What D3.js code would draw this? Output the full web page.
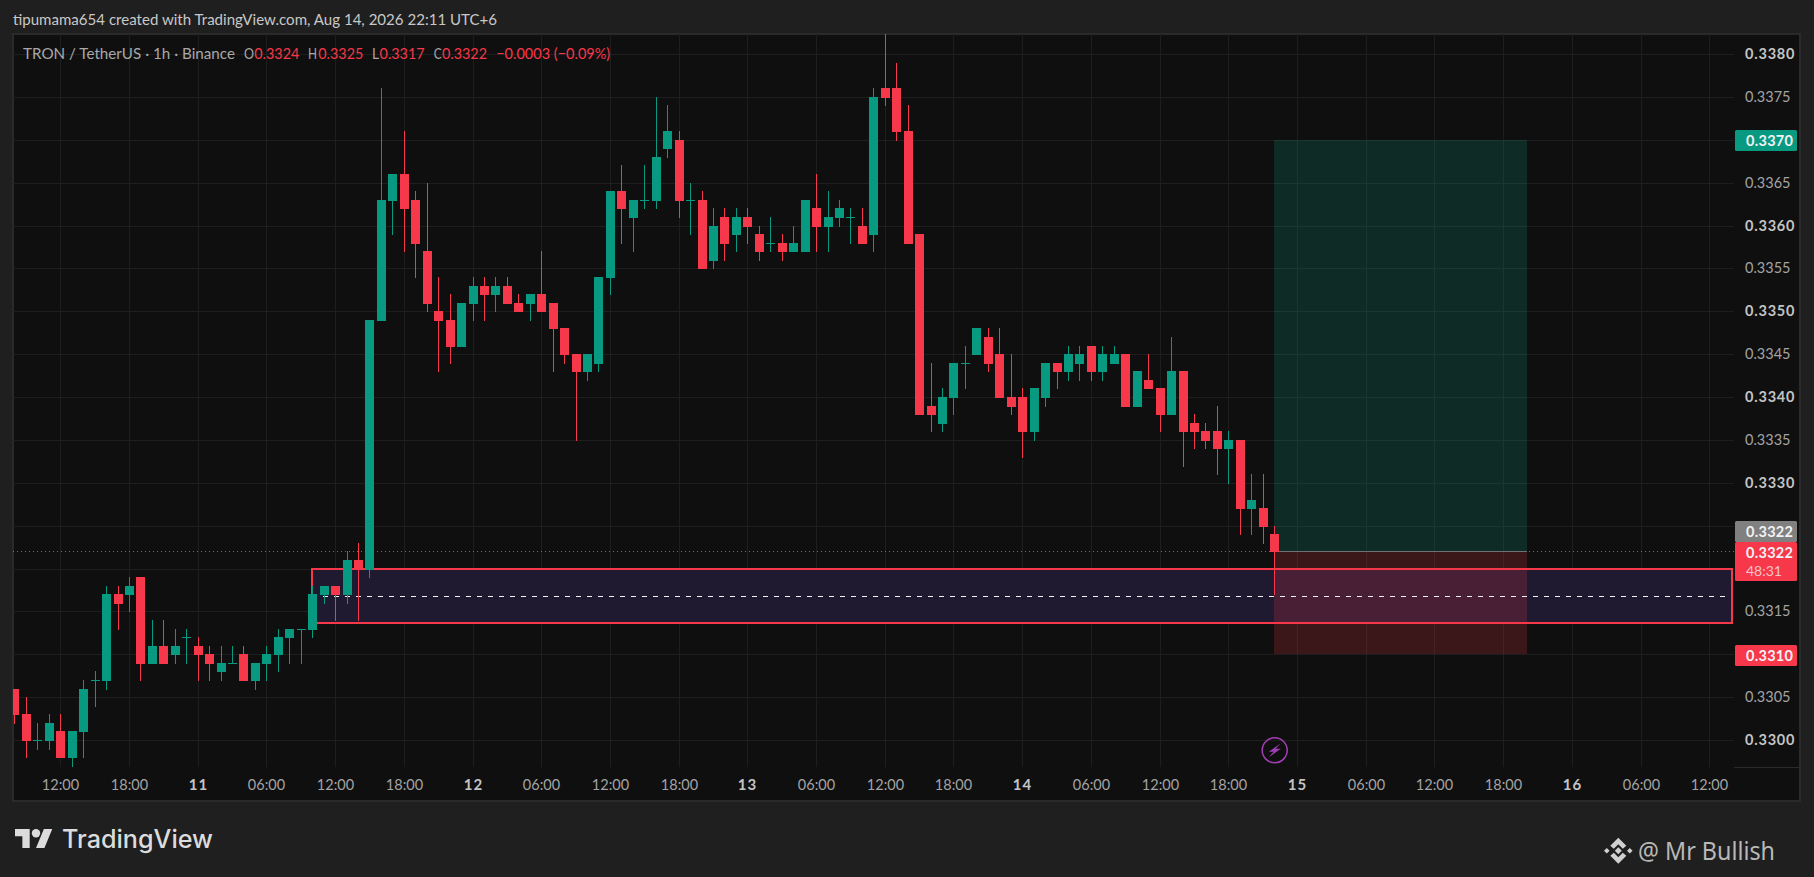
<!DOCTYPE html>
<html>
<head>
<meta charset="utf-8">
<script src="https://cdn.jsdelivr.net/npm/d3@7"></script>
<style>
  html, body { margin: 0; padding: 0; background: #1f1f1f; overflow: hidden; }
  svg { display: block; }
  text { font-family: Lato, "Liberation Sans", sans-serif; }
</style>
</head>
<body>
<div id="chart"></div>
<script>
// hourly candles, index 0 = Aug 10 12:00, prices
var hours = d3.range(-4, 107);
var opens = [
  .3306,.3303,.3300,.3300,.3301,.3298,.3301,.3307,.3307,.3317,.3317,.3319,.3309,.3311,.3310,.3312,
  .3311,.3310,.3308,.3309,.3310,.3307,.3309,.3310,.3312,.3313,.3313,.3317,.3318,.3317,.3321,.3320,
  .3349,.3363,.3366,.3363,.3357,.3350,.3349,.3346,.3351,.3353,.3352,.3353,.3351,.3351,.3352,.3351,
  .3348,.3345,.3343,.3344,.3354,.3364,.3361,.3363,.3363,.3369,.3370,.3363,.3363,.3356,.3361,.3359,
  .3361,.3359,.3358,.3358,.3357,.3357,.3362,.3360,.3361,.3361,.3360,.3359,.3376,.3376,.3371,.3359,
  .3339,.3337,.3340,.3344,.3345,.3347,.3345,.3340,.3340,.3336,.3340,.3344,.3343,.3344,.3346,.3343,
  .3344,.3345,.3339,.3342,.3341,.3338,.3343,.3337,.3336,.3336,.3334,.3335,.3327,.3327,.3324
];
var closes = [
  .3303,.3300,.3300,.3302,.3298,.3301,.3306,.3307,.3317,.3316,.3318,.3309,.3311,.3309,.3311,.3312,
  .3310,.3309,.3309,.3309,.3307,.3309,.3310,.3312,.3313,.3313,.3317,.3318,.3317,.3321,.3320,.3349,
  .3363,.3366,.3362,.3358,.3351,.3349,.3346,.3351,.3353,.3352,.3353,.3351,.3350,.3352,.3350,.3348,
  .3345,.3343,.3345,.3354,.3364,.3362,.3363,.3363,.3368,.3371,.3363,.3363,.3355,.3360,.3358,.3361,
  .3360,.3357,.3358,.3357,.3358,.3363,.3360,.3361,.3362,.3361,.3358,.3375,.3375,.3371,.3358,.3338,
  .3338,.3340,.3344,.3344,.3348,.3344,.3340,.3339,.3336,.3341,.3344,.3343,.3345,.3345,.3343,.3345,
  .3345,.3339,.3343,.3341,.3338,.3343,.3336,.3336,.3335,.3334,.3335,.3327,.3328,.3325,.3322
];
var highs = [
  .3306,.3305,.3302,.3303,.3303,.3301,.3307,.3308,.3318,.3318,.3319,.3319,.3314,.3314,.3313,.3313,
  .3312,.3311,.3311,.3311,.3311,.3309,.3311,.3313,.3313,.3313,.3318,.3318,.3318,.3322,.3323,.3349,
  .3376,.3366,.3371,.3364,.3365,.3354,.3352,.3351,.3354,.3354,.3354,.3354,.3352,.3352,.3357,.3351,
  .3348,.3345,.3345,.3354,.3364,.3367,.3363,.3367,.3375,.3374,.3371,.3365,.3364,.3362,.3362,.3362,
  .3362,.3360,.3361,.3359,.3360,.3363,.3366,.3364,.3363,.3362,.3362,.3376,.3383,.3379,.3374,.3359,
  .3344,.3341,.3344,.3346,.3348,.3348,.3348,.3345,.3341,.3341,.3344,.3344,.3346,.3346,.3346,.3346,
  .3346,.3345,.3343,.3345,.3341,.3347,.3343,.3338,.3337,.3339,.3336,.3335,.3331,.3331,.3325
];
var lows = [
  .3302,.3298,.3299,.3299,.3298,.3297,.3298,.3304,.3306,.3313,.3315,.3307,.3309,.3309,.3309,.3309,
  .3307,.3307,.3307,.3309,.3307,.3306,.3307,.3308,.3309,.3309,.3312,.3316,.3314,.3316,.3314,.3319,
  .3349,.3359,.3357,.3354,.3350,.3343,.3344,.3346,.3349,.3349,.3350,.3351,.3350,.3349,.3350,.3343,
  .3344,.3335,.3342,.3343,.3352,.3358,.3357,.3362,.3362,.3368,.3361,.3359,.3355,.3355,.3356,.3357,
  .3358,.3356,.3357,.3356,.3357,.3357,.3357,.3357,.3360,.3358,.3358,.3357,.3374,.3370,.3358,.3338,
  .3336,.3336,.3338,.3341,.3345,.3343,.3340,.3338,.3333,.3335,.3339,.3341,.3342,.3342,.3342,.3342,
  .3344,.3339,.3339,.3341,.3336,.3338,.3332,.3334,.3334,.3331,.3330,.3324,.3324,.3323,.3317
];

var priceTicks = d3.range(3380, 3299, -5).map(function (d) { return d / 10000; });
var boldPrices = [.3380, .3360, .3350, .3340, .3330, .3300];
var hiddenPrices = [.3370, .3325, .3320, .3310];
var timeTicks = d3.range(0, 145, 6);
var timeLabels = ["12:00","18:00","11","06:00","12:00","18:00","12","06:00","12:00","18:00","13","06:00",
  "12:00","18:00","14","06:00","12:00","18:00","15","06:00","12:00","18:00","16","06:00","12:00"];

var takeProfit = .3370, entry = .3322, stopLoss = .3310;
var zoneTop = .3320, zoneBottom = .33137, zoneMid = .33168;

var RED = "#f7374a", GREEN = "#089981";

var svg = d3.select("#chart").append("svg").attr("width", 1814).attr("height", 877);

var x = d3.scaleLinear().domain([0, 144]).range([60.77, 1709.77]);
var y = d3.scaleLinear().domain([.3380, .3300]).range([54, 740]);
var px = function (h) { return Math.floor(x(h)); };
var py = function (p) { return Math.round(y(p)); };

// page + pane
svg.append("rect").attr("width", 1814).attr("height", 877).attr("fill", "#1f1f1f");
svg.append("rect").attr("x", 13).attr("y", 34).attr("width", 1787).attr("height", 767)
  .attr("fill", "#0f0f0f").attr("stroke", "#2a2a2d").attr("stroke-width", 2);

var clip = svg.append("clipPath").attr("id", "pane").append("rect")
  .attr("x", 13).attr("y", 34).attr("width", 1721).attr("height", 733);

// grid
var grid = svg.append("g").attr("shape-rendering", "crispEdges").attr("stroke", "#1e1e1e");
grid.selectAll(".h").data(priceTicks).join("line").attr("class", "h")
  .attr("x1", 13).attr("x2", 1734).attr("y1", function (d) { return py(d) + .5; }).attr("y2", function (d) { return py(d) + .5; });
grid.selectAll(".v").data(timeTicks).join("line").attr("class", "v")
  .attr("y1", 34).attr("y2", 767).attr("x1", function (d) { return px(d) + .5; }).attr("x2", function (d) { return px(d) + .5; });
svg.append("line").attr("x1", 1734).attr("x2", 1800).attr("y1", 767.5).attr("y2", 767.5).attr("stroke", "#2a2a2d");

// demand zone, goes under the candles
svg.append("rect").attr("x", 312).attr("y", py(zoneTop)).attr("width", 1420).attr("height", py(zoneBottom) - py(zoneTop))
  .attr("fill", "#1f1a30").attr("stroke", RED).attr("stroke-width", 2);

// long position tool
var posLeft = px(106), posRight = 1527;
svg.append("rect").attr("x", posLeft).attr("width", posRight - posLeft)
  .attr("y", py(takeProfit)).attr("height", py(entry) - py(takeProfit))
  .attr("fill", GREEN).attr("fill-opacity", .2);
svg.append("rect").attr("x", posLeft).attr("width", posRight - posLeft)
  .attr("y", py(entry)).attr("height", py(stopLoss) - py(entry))
  .attr("fill", "#f23645").attr("fill-opacity", .2);
svg.append("line").attr("x1", posLeft).attr("x2", posRight).attr("y1", py(entry) + .5).attr("y2", py(entry) + .5)
  .attr("stroke", "#6f6f6f").attr("stroke-width", 1);

// dashed midline of the zone
svg.append("line").attr("x1", 323).attr("x2", 1727).attr("y1", py(zoneMid) + .5).attr("y2", py(zoneMid) + .5)
  .attr("stroke", "#f2f2f2").attr("stroke-width", 1).attr("stroke-dasharray", "5 6").attr("shape-rendering", "crispEdges");

// candles
var candles = svg.append("g").attr("clip-path", "url(#pane)").attr("shape-rendering", "crispEdges");
var idx = d3.range(hours.length);
var color = function (i) { return closes[i] >= opens[i] ? GREEN : RED; };
candles.selectAll(".wick").data(idx).join("rect").attr("class", "wick")
  .attr("x", function (i) { return px(hours[i]); })
  .attr("width", 1)
  .attr("y", function (i) { return py(highs[i]); })
  .attr("height", function (i) { return py(lows[i]) - py(highs[i]) + 1; })
  .attr("fill", color);
candles.selectAll(".body").data(idx).join("rect").attr("class", "body")
  .attr("x", function (i) { return px(hours[i]) - 4; })
  .attr("width", 9)
  .attr("y", function (i) { return py(Math.max(opens[i], closes[i])); })
  .attr("height", function (i) { return Math.abs(py(opens[i]) - py(closes[i])) + 1; })
  .attr("fill", color);

// last price line
svg.append("line").attr("x1", 13).attr("x2", 1735).attr("y1", py(entry) + .5).attr("y2", py(entry) + .5)
  .attr("stroke", RED).attr("stroke-width", 1).attr("stroke-dasharray", "1 3").attr("shape-rendering", "crispEdges");

// price axis
svg.append("g").selectAll("text").data(priceTicks.filter(function (d) { return hiddenPrices.indexOf(d) < 0; })).join("text")
  .attr("x", 1745).attr("y", function (d) { return py(d) + 5; })
  .attr("font-size", 14.5)
  .attr("font-weight", function (d) { return boldPrices.indexOf(d) >= 0 ? 700 : 400; })
  .attr("letter-spacing", function (d) { return boldPrices.indexOf(d) >= 0 ? .8 : 0; })
  .attr("fill", function (d) { return boldPrices.indexOf(d) >= 0 ? "#c4c4c4" : "#a3a3a3"; })
  .text(function (d) { return d.toFixed(4); });

function priceTag(top, h, fill, label) {
  svg.append("rect").attr("x", 1735).attr("y", top).attr("width", 62).attr("height", h).attr("rx", 1.5).attr("fill", fill);
  svg.append("text").attr("x", 1746).attr("y", top + 15.5).attr("font-size", 14.5).attr("font-weight", 700)
    .attr("letter-spacing", .3).attr("fill", "#f2f2f2").text(label);
}
priceTag(130, 21, GREEN, takeProfit.toFixed(4));
priceTag(521, 21, "#808080", entry.toFixed(4));
priceTag(542, 39, RED, entry.toFixed(4));
svg.append("text").attr("x", 1746).attr("y", 575.5).attr("font-size", 14).attr("fill", "#f5c4c9").text("48:31");
priceTag(645, 21, RED, stopLoss.toFixed(4));

// time axis
svg.append("g").selectAll("text").data(timeTicks).join("text")
  .attr("x", function (d) { return px(d) + .5; }).attr("y", 790)
  .attr("text-anchor", "middle")
  .attr("font-size", function (d, i) { return timeLabels[i].length < 3 ? 15 : 14.5; })
  .attr("font-weight", function (d, i) { return timeLabels[i].length < 3 ? 700 : 400; })
  .attr("letter-spacing", function (d, i) { return timeLabels[i].length < 3 ? 1 : 0; })
  .attr("fill", function (d, i) { return timeLabels[i].length < 3 ? "#c4c4c4" : "#a3a3a3"; })
  .text(function (d, i) { return timeLabels[i]; });

// headline + legend
svg.append("text").attr("x", 13).attr("y", 25).attr("font-size", 15).attr("fill", "#c8c8c8")
  .attr("textLength", 484).attr("lengthAdjust", "spacingAndGlyphs")
  .text("tipumama654 created with TradingView.com, Aug 14, 2026 22:11 UTC+6");

var legend = [
  [23, 212, "TRON / TetherUS · 1h · Binance", "#a8a8a8"],
  [244, 10, "O", "#a8a8a8"], [254.3, 45, "0.3324", RED],
  [308, 9, "H", "#a8a8a8"], [318.3, 45, "0.3325", RED],
  [372, 7, "L", "#a8a8a8"], [379.6, 45, "0.3317", RED],
  [433.8, 8, "C", "#a8a8a8"], [442, 45, "0.3322", RED],
  [496.2, 114, "−0.0003 (−0.09%)", RED]
];
svg.append("g").selectAll("text").data(legend).join("text")
  .attr("x", function (d) { return d[0]; }).attr("y", 59).attr("font-size", 15)
  .attr("textLength", function (d) { return d[1]; }).attr("lengthAdjust", "spacingAndGlyphs")
  .attr("fill", function (d) { return d[3]; }).text(function (d) { return d[2]; });

// lightning marker
var bolt = svg.append("g").attr("transform", "translate(1274.7,750.3)");
bolt.append("circle").attr("r", 12.5).attr("fill", "none").attr("stroke", "#a33fb5").attr("stroke-width", 1.5);
bolt.append("path").attr("d", "M6,-7 L-6,1.5 L-1,1.5 L-6,7 L6,-1.5 L1,-1.5 Z").attr("fill", "#a33fb5");

// TradingView logo
svg.append("path").attr("transform", "translate(15,824.8) scale(1.05)")
  .attr("d", "M14 22H7V11H0V4h14v18zM28 22h-8l7.5-18h8L28 22z").attr("fill", "#dcdcdc");
svg.append("circle").attr("cx", 36).attr("cy", 833.2).attr("r", 4.2).attr("fill", "#dcdcdc");
svg.append("text").attr("x", 62).attr("y", 848).attr("font-size", 25)
  .attr("font-weight", 500).attr("fill", "#dcdcdc").style("font-family", "Inter")
  .attr("textLength", 151).attr("lengthAdjust", "spacingAndGlyphs").text("TradingView");

// watermark
var wm = svg.append("g").attr("transform", "translate(1618.3,850.7)").attr("fill", "#d0d0d0");
wm.append("path").attr("d", "M0,-13 L8,-5 L4.5,-2 L0,-6.5 L-4.5,-2 L-8,-5 Z");
wm.append("path").attr("d", "M0,13 L8,5 L4.5,2 L0,6.5 L-4.5,2 L-8,5 Z");
wm.append("path").attr("d", "M0,-3.5 L3.5,0 L0,3.5 L-3.5,0 Z");
wm.append("path").attr("d", "M11.5,-2.8 L14.3,0 L11.5,2.8 L8.7,0 Z");
wm.append("path").attr("d", "M-11.5,-2.8 L-8.7,0 L-11.5,2.8 L-14.3,0 Z");
svg.append("text").attr("x", 1638).attr("y", 859.5).attr("font-size", 24.5).attr("fill", "#b8b8b8")
  .style("font-family", "'Noto Sans'").attr("textLength", 137).attr("lengthAdjust", "spacingAndGlyphs")
  .text("@ Mr Bullish");
</script>
</body>
</html>
